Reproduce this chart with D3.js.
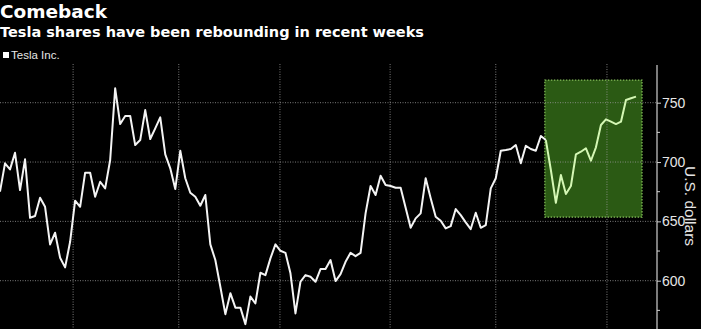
<!DOCTYPE html>
<html>
<head>
<meta charset="utf-8">
<script src="https://cdn.jsdelivr.net/npm/d3@7"></script>
<style>
  body { margin: 0; background: #000; }
  svg { display: block; font-family: "Liberation Sans", Arial, sans-serif; }
</style>
</head>
<body>
<div class="display"></div>
<script>
// Tesla Inc. daily close
const prices = [
  675.0, 698.9, 693.8, 707.8, 676.4, 702.3, 653.0, 654.5, 669.9, 662.3,
  630.6, 640.4, 619.3, 611.2, 632.8, 667.4, 662.3, 691.0, 691.0, 670.7,
  683.4, 677.8, 701.7, 762.1, 732.0, 738.8, 738.8, 714.3, 718.5, 743.8,
  719.4, 728.4, 737.7, 706.5, 694.7, 677.2, 709.5, 686.3, 674.1, 670.7,
  663.2, 672.2, 630.6, 617.4, 594.9, 571.8, 589.5, 577.3, 577.3, 563.4,
  586.6, 580.9, 606.7, 604.7, 618.8, 630.6, 625.2, 623.5, 606.2, 572.4,
  599.1, 604.7, 603.3, 599.1, 609.8, 609.8, 617.4, 599.7, 605.6, 615.9,
  623.5, 620.7, 623.5, 656.7, 679.8, 672.2, 688.4, 680.6, 679.8, 678.3,
  678.3, 661.5, 644.6, 652.5, 656.7, 686.3, 669.4, 653.9, 650.5, 644.1,
  646.0, 660.4, 655.3, 649.2, 643.5, 657.3, 644.6, 646.9, 677.8, 686.3,
  709.5, 710.1, 711.0, 714.3, 698.9, 713.7, 711.0, 709.5, 721.9, 718.5,
  693.3, 665.7, 689.0, 673.0, 679.8, 706.5, 708.7, 711.6, 701.1, 712.4,
  731.2, 736.0, 734.0, 732.0, 734.0, 752.3, 753.7, 755.1
];

// month boundaries (in trading-day index) used for the vertical grid
const monthBreaks = [14.6, 35.7, 55.9, 77.9, 99.0, 121.2];
const yTicks = [600, 650, 700, 750];
const yMinorTicks = [575, 625, 675, 725];

// highlighted rebound: from this index on, box spans these prices
const highlightStart = 109;
const highlightEnd = 128.2;
const highlightRange = [653.6, 769];

const width = 701;
const height = 329;
const axisX = 657;
const titleFont = '"DejaVu Sans", Verdana, sans-serif';

const svg = d3.select('.display')
  .append('svg')
  .attr('width', width)
  .attr('height', height)
  .style('background-color', 'black');

const xScale = d3.scaleLinear()
  .domain([0, prices.length - 1])
  .range([0, 636]);

const yScale = d3.scaleLinear()
  .domain([600, 750])
  .range([280.7, 102.7]);

// highlight box
svg.append('rect')
  .attr('x', xScale(highlightStart) - 1)
  .attr('y', yScale(highlightRange[1]))
  .attr('width', xScale(highlightEnd) - xScale(highlightStart) + 1)
  .attr('height', yScale(highlightRange[0]) - yScale(highlightRange[1]))
  .attr('fill', '#2b5a14')
  .attr('stroke', '#86c35a')
  .attr('stroke-width', 1.2)
  .attr('stroke-dasharray', '1.5,1.5');

// grid
svg.append('g')
  .selectAll('line')
  .data(yTicks)
  .enter()
  .append('line')
  .attr('x1', 0)
  .attr('x2', axisX)
  .attr('y1', d => yScale(d))
  .attr('y2', d => yScale(d))
  .attr('stroke', '#999')
  .attr('stroke-opacity', 0.8)
  .attr('stroke-dasharray', '1,1.5');

svg.append('g')
  .selectAll('line')
  .data(monthBreaks)
  .enter()
  .append('line')
  .attr('x1', d => xScale(d))
  .attr('x2', d => xScale(d))
  .attr('y1', 64)
  .attr('y2', height)
  .attr('stroke', '#999')
  .attr('stroke-opacity', 0.8)
  .attr('stroke-dasharray', '1,1.5');

// price line
const line = d3.line()
  .x((_, i) => xScale(i))
  .y(d => yScale(d));

svg.append('path')
  .datum(prices.slice(0, highlightStart + 1))
  .attr('d', line)
  .attr('fill', 'none')
  .attr('stroke', '#f4f4f4')
  .attr('stroke-width', 2)
  .attr('stroke-linejoin', 'round');

const lineHi = d3.line()
  .x((_, i) => xScale(i + highlightStart))
  .y(d => yScale(d));

svg.append('path')
  .datum(prices.slice(highlightStart))
  .attr('d', lineHi)
  .attr('fill', 'none')
  .attr('stroke', '#d4f7b4')
  .attr('stroke-width', 2)
  .attr('stroke-linejoin', 'round');

// y axis on the right
const yAxis = d3.axisRight(yScale)
  .tickValues(yTicks)
  .tickSize(4)
  .tickPadding(1);

const axisG = svg.append('g')
  .attr('transform', `translate(${axisX}, 0)`)
  .call(yAxis);

axisG.select('.domain').remove();
axisG.selectAll('line').attr('stroke', '#d0d0d0');
axisG.selectAll('text')
  .attr('fill', '#e6e6e6')
  .style('font-size', '14px')
  .style('font-family', '"Liberation Sans", Arial, sans-serif');

svg.append('line')
  .attr('x1', axisX)
  .attr('x2', axisX)
  .attr('y1', 65)
  .attr('y2', height)
  .attr('stroke', '#d0d0d0')
  .attr('stroke-width', 1.2);

svg.append('g')
  .selectAll('line')
  .data(yMinorTicks)
  .enter()
  .append('line')
  .attr('x1', axisX)
  .attr('x2', axisX + 3)
  .attr('y1', d => yScale(d))
  .attr('y2', d => yScale(d))
  .attr('stroke', '#d0d0d0');

svg.append('text')
  .attr('transform', `translate(685, 206) rotate(90)`)
  .attr('text-anchor', 'middle')
  .attr('fill', '#e6e6e6')
  .style('font-size', '15.5px')
  .text('U.S. dollars');

// titles and legend
svg.append('text')
  .attr('x', 0)
  .attr('y', 18)
  .attr('fill', 'white')
  .style('font-family', titleFont)
  .style('font-size', '18.5px')
  .style('font-weight', 'bold')
  .text('Comeback');

svg.append('text')
  .attr('x', 0)
  .attr('y', 37)
  .attr('fill', 'white')
  .style('font-family', titleFont)
  .style('font-size', '14.5px')
  .style('font-weight', 'bold')
  .text('Tesla shares have been rebounding in recent weeks');

svg.append('rect')
  .attr('x', 3)
  .attr('y', 52)
  .attr('width', 6)
  .attr('height', 6)
  .attr('fill', 'white');

svg.append('text')
  .attr('x', 11)
  .attr('y', 58.5)
  .attr('fill', '#e6e6e6')
  .style('font-size', '11.5px')
  .text('Tesla Inc.');
</script>
</body>
</html>
